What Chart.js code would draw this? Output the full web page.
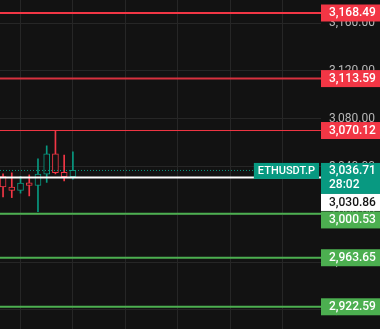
<!DOCTYPE html>
<html>
<head>
<meta charset="utf-8">
<script src="https://cdn.jsdelivr.net/npm/chart.js@4.4.0/dist/chart.umd.min.js"></script>
<style>
  html, body { margin: 0; padding: 0; background: #121212; }
  canvas { display: block; }
</style>
</head>
<body>
<canvas id="chart" width="380" height="329"></canvas>
<script>
// candles (bar index, OHLC)
const candleIdx = [0, 1, 2, 3, 4, 5, 6, 7, 8];
const opens  = [3031.6, 3022.7, 3020.0, 3026.3, 3024.1, 3033.6, 3050.6, 3035.1, 3031.6];
const highs  = [3033.8, 3034.7, 3031.7, 3033.0, 3046.4, 3057.3, 3070.12, 3049.5, 3052.2];
const lows   = [3014.6, 3014.0, 3017.7, 3015.4, 3002.3, 3026.7, 3033.8, 3028.0, 3029.4];
const closes = [3023.0, 3020.0, 3026.1, 3024.2, 3033.6, 3050.6, 3034.9, 3031.6, 3036.71];

// horizontal levels
const resistances = [3168.49, 3113.59, 3070.12];
const supports = [3000.53, 2963.65, 2922.59];
const lastPrice = 3036.71;
const markPrice = 3030.86;
const countdown = '28:02';
const symbol = 'ETHUSDT.P';

// axes
const yTicks = [2920, 2960, 3000, 3040, 3080, 3120, 3160];
const xGridIdx = [2, 8, 14, 20, 26, 32];
const xMin = -0.35, xMax = 36.42;
const yMin = 2904.0, yMax = 3179.37;

const BG = '#121212';
const UP = '#089981';
const DOWN = '#f23645';
const GREEN = '#4caf50';
const TAG_FONT = '500 12px Roboto';

function fmt(v) {
    const parts = v.toFixed(2).split('.');
    parts[0] = parts[0].replace(/\B(?=(\d{3})+(?!\d))/g, ',');
    return parts.join('.');
}

const candleColor = candleIdx.map((_, i) => closes[i] >= opens[i] ? UP : DOWN);

function level(price, color, width, dash) {
    return {
        type: 'line',
        data: [{ x: xMin, y: price }, { x: xMax, y: price }],
        borderColor: color,
        borderWidth: width,
        borderDash: dash || [],
        pointRadius: 0,
        order: 0
    };
}

const datasets = [
    level(resistances[0], '#f23645', 2),
    level(resistances[1], '#d8313e', 2),
    level(resistances[2], '#f23645', 1),
    level(supports[0], GREEN, 2),
    level(supports[1], GREEN, 2),
    level(supports[2], GREEN, 2),
    level(lastPrice, UP, 1, [1, 2]),
    level(markPrice, '#ffffff', 2),
    {
        type: 'bar',
        data: candleIdx.map((x, i) => ({ x: x, y: [opens[i], closes[i]] })),
        backgroundColor: BG,
        borderColor: candleColor,
        borderWidth: 1,
        borderSkipped: false,
        barThickness: 6,
        grouped: false,
        order: 1
    },
    {
        type: 'bar',
        data: candleIdx.map((x, i) => ({ x: x, y: [lows[i], highs[i]] })),
        backgroundColor: candleColor,
        borderWidth: 0,
        barThickness: 1,
        grouped: false,
        order: 2
    }
];

const bgPlugin = {
    id: 'bg',
    beforeDraw(chart) {
        const ctx = chart.ctx;
        ctx.save();
        ctx.fillStyle = BG;
        ctx.fillRect(0, 0, chart.width, chart.height);
        ctx.restore();
    }
};

const labelPlugin = {
    id: 'priceLabels',
    afterDraw(chart) {
        const ctx = chart.ctx;
        const ys = chart.scales.y;
        const left = chart.chartArea.right;
        const right = chart.width;
        ctx.save();
        ctx.textBaseline = 'middle';
        ctx.font = TAG_FONT;

        function tag(x0, x1, top, h, bg, fg, texts) {
            ctx.fillStyle = bg;
            ctx.fillRect(x0, top, x1 - x0, h);
            ctx.fillStyle = fg;
            texts.forEach(t => ctx.fillText(t.s, x0 + t.dx, top + t.dy));
        }

        resistances.forEach(p => {
            const py = ys.getPixelForValue(p);
            tag(left, right, py - 8.5, 17, DOWN, '#ffffff', [{ s: fmt(p), dx: 8, dy: 9 }]);
        });

        const lp = ys.getPixelForValue(lastPrice);
        const curTop = lp - 7.5;
        tag(left, right, curTop, 31, UP, '#ffffff', [
            { s: fmt(lastPrice), dx: 8, dy: 8 },
            { s: countdown, dx: 8, dy: 22 }
        ]);

        ctx.font = '500 11px Roboto';
        const sw = ctx.measureText(symbol).width + 8;
        tag(left - 2 - sw, left - 2, curTop, 16, UP, '#ffffff', [{ s: symbol, dx: 4, dy: 8.5 }]);
        ctx.font = TAG_FONT;

        let bottom = curTop + 31;
        tag(left, right, bottom, 17, '#ffffff', '#131313', [{ s: fmt(markPrice), dx: 8, dy: 9 }]);
        bottom += 17;

        supports.forEach(p => {
            const py = ys.getPixelForValue(p);
            const top = Math.max(py - 8.5, bottom + 0.5);
            tag(left, right, top, 17, GREEN, '#ffffff', [{ s: fmt(p), dx: 8, dy: 9 }]);
            bottom = top + 17;
        });
        ctx.restore();
    }
};

new Chart(document.getElementById('chart'), {
    type: 'bar',
    data: { datasets: datasets },
    options: {
        responsive: false,
        animation: false,
        events: [],
        layout: { padding: 0 },
        plugins: { legend: { display: false }, tooltip: { enabled: false } },
        scales: {
            x: {
                type: 'linear',
                min: xMin,
                max: xMax,
                offset: false,
                afterBuildTicks: axis => { axis.ticks = xGridIdx.map(v => ({ value: v })); },
                afterFit: axis => { axis.height = 0; axis.paddingLeft = 0; axis.paddingRight = 0; },
                ticks: { display: false },
                grid: { color: '#262626', drawTicks: false, offset: false },
                border: { display: false }
            },
            y: {
                position: 'right',
                min: yMin,
                max: yMax,
                afterBuildTicks: axis => { axis.ticks = yTicks.map(v => ({ value: v })); },
                afterFit: axis => { axis.width = 59; axis.paddingTop = 0; axis.paddingBottom = 0; },
                ticks: {
                    padding: 8,
                    color: '#b8b8b8',
                    font: { family: 'Roboto', size: 12 },
                    callback: v => fmt(v)
                },
                grid: { color: '#262626', drawTicks: false },
                border: { display: false }
            }
        }
    },
    plugins: [bgPlugin, labelPlugin]
});
</script>
</body>
</html>
